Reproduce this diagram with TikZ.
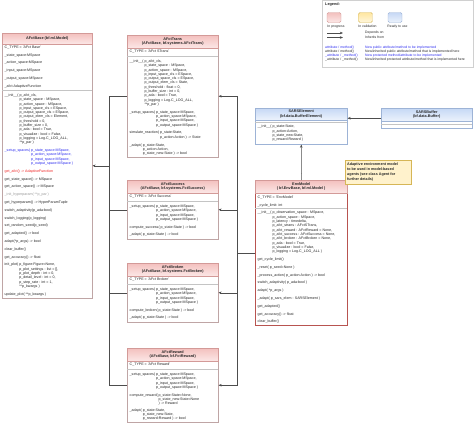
\documentclass[tikz,border=0pt]{standalone}
\usepackage{fontspec}
\setmainfont{Liberation Sans}
\usetikzlibrary{arrows.meta}
\definecolor{txtc}{HTML}{262626}
\definecolor{boxline}{HTML}{BFA5A5}
\definecolor{pinkline}{HTML}{D39A98}
\definecolor{pinktop}{HTML}{F3C0BE}
\definecolor{pinkbot}{HTML}{FCE8E7}
\definecolor{blueline}{HTML}{9DB3D6}
\definecolor{bluetop}{HTML}{C6D8F5}
\definecolor{bluebot}{HTML}{EDF3FC}
\definecolor{yelline}{HTML}{D6B656}
\definecolor{yeltop}{HTML}{FFE6A0}
\definecolor{yelbot}{HTML}{FFF7DD}
\definecolor{notefill}{HTML}{FFF2CC}
\definecolor{envline}{HTML}{B85450}
\definecolor{sepc}{HTML}{C4C4C4}
\definecolor{connc}{HTML}{4D4D4D}
\definecolor{bluetxt}{HTML}{2B2BF0}
\definecolor{redtxt}{HTML}{F01E1E}
\definecolor{greytxt}{HTML}{9A9A9A}
\definecolor{legline}{HTML}{D0D0D0}
\newcommand{\fsz}{\fontsize{3.6}{4.3}\selectfont}
\newcommand{\indinit}{\hphantom{\_\_init\_\_( }}
\newcommand{\indsetup}{\hphantom{\_setup\_spaces( }}
\newcommand{\indplot}{\hphantom{init\_plot( }}
\newcommand{\indsim}{\hphantom{simulate\_reaction( }}
\newcommand{\indad}{\hphantom{\_adapt( }}
\newcommand{\indcr}{\hphantom{compute\_reward( }}
\begin{document}
\begin{tikzpicture}[x=1pt,y=-1pt,
  clsbox/.style={draw=boxline, line width=0.5pt, fill=white, rectangle, inner sep=0pt, anchor=north west},
  hdr/.style={rectangle, inner sep=0pt, anchor=north west, line width=0.4pt},
  pinkhdr/.style={hdr, draw=pinkline, top color=pinktop, bottom color=pinkbot},
  bluehdr/.style={hdr, draw=blueline, top color=bluetop, bottom color=bluebot},
  ttl/.style={inner sep=0pt, align=center, font=\fontsize{3.8}{4.4}\selectfont\bfseries, text=txtc},
  txt/.style={inner sep=0pt, align=left, anchor=north west, font=\fsz, text=txtc},
  sepl/.style={draw=sepc, line width=0.4pt},
  conn/.style={draw=connc, line width=0.5pt},
  arr/.style={conn, -{Stealth[length=3.2pt,width=2.6pt]}},
  swatch/.style={rectangle, rounded corners=1.5pt, minimum width=14pt, minimum height=10pt, inner sep=0pt, line width=0.4pt},
  lgtxt/.style={inner sep=0pt, anchor=west, font=\fontsize{3.4}{4}\selectfont, text=txtc},
  lgcap/.style={inner sep=0pt, anchor=center, font=\fontsize{3.4}{4}\selectfont, text=txtc},
  notebox/.style={rectangle, draw=yelline, fill=notefill, line width=0.4pt, inner sep=0pt, anchor=north west},
  notetxt/.style={inner sep=0pt, align=left, anchor=north west, font=\fontsize{3.7}{5.2}\selectfont\bfseries, text=txtc}
]
\useasboundingbox (0,0) rectangle (474,424);

% ---------------- Legend ----------------
\draw[legline, line width=0.4pt] (322,0) rectangle (473.5,67);
\node[inner sep=0pt, anchor=west, font=\fontsize{3.8}{4.4}\selectfont\bfseries, text=txtc] (lgt) at (325,5) {Legend:};
\node[swatch, draw=pinkline, top color=pinktop, bottom color=pinkbot] (swp) at (334,17.5) {};
\node[swatch, draw=yelline, top color=yeltop, bottom color=yelbot] (swy) at (365.5,17.5) {};
\node[swatch, draw=blueline, top color=bluetop, bottom color=bluebot] (swb) at (395,17.5) {};
\node[lgcap] (lgp) at (336,26.5) {In progress};
\node[lgcap] (lgy) at (367.5,26.5) {In validation};
\node[lgcap] (lgb) at (397.5,26.5) {Ready to use};
\coordinate (la1) at (327,33);
\coordinate (lb1) at (343,33);
\coordinate (la2) at (327,37.5);
\coordinate (lb2) at (343,37.5);
\draw[arr] (la1) -- (lb1);
\draw[arr] (la2) -- (lb2);
\node[lgtxt] (lgd) at (365,33) {Depends on};
\node[lgtxt] (lgi) at (365,37.5) {Inherits from};
\node[lgtxt, text=bluetxt] (lg1a) at (325,48) {attribute / method()};
\node[lgtxt] (lg2a) at (325,52) {attribute / method()};
\node[lgtxt, text=bluetxt] (lg3a) at (325,56) {\_attribute / \_method()};
\node[lgtxt] (lg4a) at (325,60) {\_attribute / \_method()};
\node[lgtxt, text=bluetxt] (lg1b) at (365,48) {New public attribute/method to be implemented};
\node[lgtxt] (lg2b) at (365,52) {New/inherited public attribute/method that is implemented here};
\node[lgtxt, text=bluetxt] (lg3b) at (365,56) {New protected method/attribute to be implemented};
\node[lgtxt] (lg4b) at (365,60) {New/inherited protected attribute/method that is implemented here};

% ---------------- AFctBase ----------------
\node[clsbox, minimum width=90pt, minimum height=265pt] (base) at (2,33) {};
\node[pinkhdr, minimum width=90pt, minimum height=11pt] (baseh) at (2,33) {};
\node[ttl] (baset) at (baseh.center) {AFctBase (bf.ml.Model)};
\node[txt] (basea) at (4.5,45.6) {C\_TYPE = 'AFct Base'\\[3.5pt]
\_state\_space:MSpace\\[3.5pt]
\_action\_space:MSpace\\[3.5pt]
\_input\_space:MSpace\\[3.5pt]
\_output\_space:MSpace\\[3.5pt]
\_afct:AdaptiveFunction};
\draw[sepl] (2,90) -- (92,90);
\node[txt] (basem) at (4.5,93.6) {\_\_init\_\_( p\_afct\_cls,\\
\indinit p\_state\_space : MSpace,\\
\indinit p\_action\_space : MSpace,\\
\indinit p\_input\_space\_cls = ESpace,\\
\indinit p\_output\_space\_cls = ESpace,\\
\indinit p\_output\_elem\_cls = Element,\\
\indinit p\_threshold = 0,\\
\indinit p\_buffer\_size = 0,\\
\indinit p\_ada : bool = True,\\
\indinit p\_visualize : bool = False,\\
\indinit p\_logging = Log.C\_LOG\_ALL,\\
\indinit **p\_par )\\[3.5pt]
\textcolor{bluetxt}{\_setup\_spaces( p\_state\_space:MSpace,}\\
\textcolor{bluetxt}{\indsetup p\_action\_space:MSpace,}\\
\textcolor{bluetxt}{\indsetup p\_input\_space:MSpace,}\\
\textcolor{bluetxt}{\indsetup p\_output\_space:MSpace )}\\[3.5pt]
\textcolor{redtxt}{get\_afct() -> AdaptiveFunction}\\[3.5pt]
get\_state\_space() -> MSpace\\[3.5pt]
get\_action\_space() -> MSpace\\[3.5pt]
\textcolor{greytxt}{\_init\_hyperparam( **p\_par )}\\[3.5pt]
get\_hyperparam() -> HyperParamTuple\\[3.5pt]
switch\_adaptivity(p\_ada:bool)\\[3.5pt]
switch\_logging(p\_logging)\\[3.5pt]
set\_random\_seed(p\_seed)\\[3.5pt]
get\_adapted() -> bool\\[3.5pt]
adapt(*p\_args) -> bool\\[3.5pt]
clear\_buffer()\\[3.5pt]
get\_accuracy() -> float\\[3.5pt]
init\_plot( p\_figure:Figure=None,\\
\indplot p\_plot\_settings : list = [],\\
\indplot p\_plot\_depth : int = 0,\\
\indplot p\_detail\_level : int = 0,\\
\indplot p\_step\_rate : int = 1,\\
\indplot **p\_kwargs )\\[3.5pt]
update\_plot( **p\_kwargs )};

% ---------------- AFctTrans ----------------
\node[clsbox, minimum width=91pt, minimum height=122pt] (trans) at (127,35) {};
\node[pinkhdr, minimum width=91pt, minimum height=13pt] (transh) at (127,35) {};
\node[ttl] (transt) at (transh.center) {AFctTrans\\(AFctBase, bf.systems.AFctTrans)};
\node[txt] (transa) at (129.5,50.1) {C\_TYPE = 'AFct STrans'};
\draw[sepl] (127,56) -- (218,56);
\node[txt] (transm) at (129.5,59.6) {\_\_init\_\_( p\_afct\_cls,\\
\indinit p\_state\_space : MSpace,\\
\indinit p\_action\_space : MSpace,\\
\indinit p\_input\_space\_cls = ESpace,\\
\indinit p\_output\_space\_cls = ESpace,\\
\indinit p\_output\_elem\_cls = State,\\
\indinit p\_threshold : float = 0,\\
\indinit p\_buffer\_size : int = 0,\\
\indinit p\_ada : bool = True,\\
\indinit p\_logging = Log.C\_LOG\_ALL,\\
\indinit **p\_par )\\[3.5pt]
\_setup\_spaces( p\_state\_space:MSpace,\\
\indsetup p\_action\_space:MSpace,\\
\indsetup p\_input\_space:MSpace,\\
\indsetup p\_output\_space:MSpace )\\[3.5pt]
simulate\_reaction( p\_state:State,\\
\indsim p\_action:Action ) -> State\\[3.5pt]
\_adapt( p\_state:State,\\
\indad p\_action:Action,\\
\indad p\_state\_new:State ) -> bool};

% ---------------- AFctSuccess ----------------
\node[clsbox, minimum width=91pt, minimum height=59pt] (succ) at (127,180) {};
\node[pinkhdr, minimum width=91pt, minimum height=13pt] (succh) at (127,180) {};
\node[ttl] (succt) at (succh.center) {AFctSuccess\\(AFctBase, bf.systems.FctSuccess)};
\node[txt] (succa) at (129.5,195.1) {C\_TYPE = 'AFct Success'};
\draw[sepl] (127,201) -- (218,201);
\node[txt] (succm) at (129.5,204.6) {\_setup\_spaces( p\_state\_space:MSpace,\\
\indsetup p\_action\_space:MSpace,\\
\indsetup p\_input\_space:MSpace,\\
\indsetup p\_output\_space:MSpace )\\[3.5pt]
compute\_success( p\_state:State ) -> bool\\[3.5pt]
\_adapt( p\_state:State ) -> bool};

% ---------------- AFctBroken ----------------
\node[clsbox, minimum width=91pt, minimum height=59pt] (brok) at (127,263) {};
\node[pinkhdr, minimum width=91pt, minimum height=13pt] (brokh) at (127,263) {};
\node[ttl] (brokt) at (brokh.center) {AFctBroken\\(AFctBase, bf.systems.FctBroken)};
\node[txt] (broka) at (129.5,278.1) {C\_TYPE = 'AFct Broken'};
\draw[sepl] (127,284) -- (218,284);
\node[txt] (brokm) at (129.5,287.6) {\_setup\_spaces( p\_state\_space:MSpace,\\
\indsetup p\_action\_space:MSpace,\\
\indsetup p\_input\_space:MSpace,\\
\indsetup p\_output\_space:MSpace )\\[3.5pt]
compute\_broken( p\_state:State ) -> bool\\[3.5pt]
\_adapt( p\_state:State ) -> bool};

% ---------------- AFctReward ----------------
\node[clsbox, minimum width=91pt, minimum height=74pt] (rew) at (127,348) {};
\node[pinkhdr, minimum width=91pt, minimum height=13pt] (rewh) at (127,348) {};
\node[ttl] (rewt) at (rewh.center) {AFctReward\\(AFctBase, bf.FctReward)};
\node[txt] (rewa) at (129.5,363.1) {C\_TYPE = 'AFct Reward'};
\draw[sepl] (127,369) -- (218,369);
\node[txt] (rewm) at (129.5,372.6) {\_setup\_spaces( p\_state\_space:MSpace,\\
\indsetup p\_action\_space:MSpace,\\
\indsetup p\_input\_space:MSpace,\\
\indsetup p\_output\_space:MSpace )\\[3.5pt]
compute\_reward( p\_state:State=None,\\
\indcr p\_state\_new:State=None\\
\indcr ) -> Reward\\[2pt]
\_adapt( p\_state:State,\\
\indad p\_state\_new:State,\\
\indad p\_reward:Reward ) -> bool};

% ---------------- SARSElement ----------------
\node[clsbox, draw=blueline, minimum width=92pt, minimum height=36pt] (sarse) at (255,108) {};
\node[bluehdr, minimum width=92pt, minimum height=12pt] (sarseh) at (255,108) {};
\node[ttl] (sarset) at (sarseh.center) {SARSElement\\(bf.data.BufferElement)};
\draw[sepl] (255,122.5) -- (347,122.5);
\node[txt] (sarsem) at (257.5,125.1) {\_\_init\_\_( p\_state:State,\\
\indinit p\_action:Action,\\
\indinit p\_state\_new:State,\\
\indinit p\_reward:Reward )};

% ---------------- SARSBuffer ----------------
\node[clsbox, draw=blueline, minimum width=91pt, minimum height=20pt] (sarsb) at (381,108) {};
\node[bluehdr, minimum width=91pt, minimum height=13pt] (sarsbh) at (381,108) {};
\node[ttl] (sarsbt) at (sarsbh.center) {SARSBuffer\\(bf.data.Buffer)};
\draw[sepl] (381,124.5) -- (472,124.5);

% ---------------- EnvModel ----------------
\node[clsbox, draw=envline, line width=1.1pt, minimum width=92pt, minimum height=145pt] (env) at (255,180) {};
\node[pinkhdr, minimum width=92pt, minimum height=13pt] (envh) at (255,180) {};
\node[ttl] (envt) at (envh.center) {EnvModel\\( bf.EnvBase, bf.ml.Model )};
\node[txt] (enva) at (257.5,195.6) {C\_TYPE = 'EnvModel'\\[3.5pt]
\_cycle\_limit: int};
\draw[sepl] (255,208) -- (347,208);
\node[txt] (envm) at (257.5,211.1) {\_\_init\_\_( p\_observation\_space : MSpace,\\
\indinit p\_action\_space : MSpace,\\
\indinit p\_latency : timedelta,\\
\indinit p\_afct\_strans : AFctSTrans,\\
\indinit p\_afct\_reward : AFctReward = None,\\
\indinit p\_afct\_success : AFctSuccess = None,\\
\indinit p\_afct\_broken : AFctBroken = None,\\
\indinit p\_ada : bool = True,\\
\indinit p\_visualize : bool = False,\\
\indinit p\_logging = Log.C\_LOG\_ALL )\\[3.5pt]
get\_cycle\_limit()\\[3.5pt]
\_reset( p\_seed=None )\\[3.5pt]
\_process\_action( p\_action:Action ) -> bool\\[3.5pt]
switch\_adaptivity( p\_ada:bool )\\[3.5pt]
adapt( *p\_args )\\[3.5pt]
\_adapt( p\_sars\_elem : SARSElement )\\[3.5pt]
get\_adapted()\\[3.5pt]
get\_accuracy() -> float\\[3.5pt]
clear\_buffer()};

% ---------------- Note ----------------
\node[notebox, minimum width=66pt, minimum height=24pt] (note) at (345,160) {};
\node[notetxt] (notet) at (347,162.3) {Adaptive environment model\\
to be used in model-based\\
agents (see class Agent for\\
further details)};

% ---------------- Connectors ----------------
\path (base.east) ++(17,0) coordinate (lj);
\draw[conn] (trans.west) -| (lj);
\draw[conn] (succ.west) -| (lj);
\draw[conn] (brok.west) -| (lj);
\draw[conn] (rew.west) -| (lj);
\draw[arr] (lj) -- (base.east);

\path (env.west) ++(-18,0) coordinate (rj);
\draw[conn] (env.west) -- (rj);
\draw[arr] (rj) |- (trans.east);
\draw[arr] (rj) |- (succ.east);
\draw[arr] (rj) |- (brok.east);
\draw[arr] (rj) |- (rew.east);

\draw[arr] (env.north) -- (sarse.south);
\draw[arr] (sarsb.west) -- (sarsb.west -| sarse.east);
\end{tikzpicture}
\end{document}
